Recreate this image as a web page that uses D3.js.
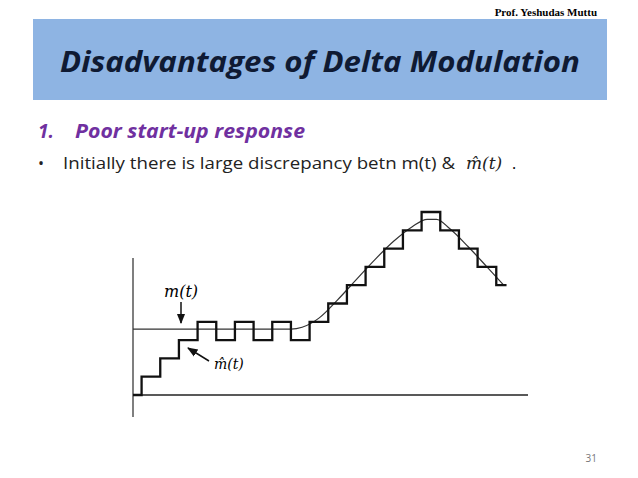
<!DOCTYPE html><html><head><meta charset="utf-8"><script src="https://cdn.jsdelivr.net/npm/d3@7"></script>
<style>body{margin:0;background:#fff}</style></head><body><svg id="c" width="638" height="478"></svg>
<script>
// staircase approximation levels per sampling interval
const stairLevels=[1,2,3,4,3,4,3,4,3,4,5,6,7,8,9,10,9,8,7,6];
// message signal m(t): [time index, level]
const mT=[-0.46,0,2,4,6,8,8.6,9.5,10.5,11.5,12.5,13.5,14.5,15.3,15.8,16.5,17.5,18.5,19.4];
const mV=[3.6,3.6,3.6,3.6,3.6,3.6,3.7,4.2,5.2,6.3,7.4,8.4,9.2,9.6,9.6,9.1,8.1,7.0,6.0];
const title="Disadvantages of Delta Modulation";
const svg=d3.select("#c");
const x=d3.scaleLinear().domain([-0.46,20.7]).range([133,528]);
const y=d3.scaleLinear().domain([0,10]).range([395,212]);
svg.append("text").attr("x",597).attr("y",16).attr("text-anchor","end").attr("font-family","Liberation Serif").attr("font-weight","bold").attr("font-size",11).text("Prof. Yeshudas Muttu");
svg.append("rect").attr("x",33).attr("y",19).attr("width",574).attr("height",81).attr("fill","#8eb4e3");
svg.append("text").attr("x",60).attr("y",72).attr("textLength",520).attr("lengthAdjust","spacingAndGlyphs").attr("font-family","Open Sans").attr("font-style","italic").attr("font-weight","bold").attr("font-size",29).attr("fill","#0f1a33").text(title);
svg.append("text").attr("x",38).attr("y",138).attr("font-family","Open Sans").attr("font-style","italic").attr("font-weight","bold").attr("font-size",19).attr("fill","#7030a0").text("1.");
svg.append("text").attr("x",75).attr("y",138).attr("textLength",230).attr("lengthAdjust","spacingAndGlyphs").attr("font-family","Open Sans").attr("font-style","italic").attr("font-weight","bold").attr("font-size",19).attr("fill","#7030a0").text("Poor start-up response");
svg.append("text").attr("x",38).attr("y",169).attr("font-family","Open Sans").attr("font-size",16).attr("fill","#222").text("•");
svg.append("text").attr("x",63).attr("y",169).attr("textLength",392).attr("lengthAdjust","spacingAndGlyphs").attr("font-family","Open Sans").attr("font-size",17).attr("fill","#222").text("Initially there is large discrepancy betn m(t) &");
svg.append("text").attr("x",466).attr("y",169).attr("font-family","DejaVu Serif").attr("font-style","italic").attr("font-size",17).attr("fill","#222").text("m̂(t)");
svg.append("text").attr("x",512).attr("y",169).attr("font-family","Open Sans").attr("font-size",16).text(".");
svg.append("text").attr("x",597).attr("y",462).attr("text-anchor","end").attr("font-family","Open Sans").attr("font-size",10).attr("fill","#777").text("31");
// axes
svg.append("line").attr("x1",x(-0.46)).attr("x2",x(-0.46)).attr("y1",258).attr("y2",417).attr("stroke","#555").attr("stroke-width",1.5);
svg.append("line").attr("x1",x(-0.46)).attr("x2",x(20.7)).attr("y1",y(0)).attr("y2",y(0)).attr("stroke","#222").attr("stroke-width",1.5);
// m(t)
svg.append("path").datum(mT.map((t,i)=>[t,mV[i]])).attr("fill","none").attr("stroke","#333").attr("stroke-width",1.2)
 .attr("d",d3.line().x(d=>x(d[0])).y(d=>y(d[1])).curve(d3.curveMonotoneX));
// staircase
const pts=[[-0.46,0],[0,0]];
stairLevels.forEach((v,k)=>{pts.push([k,v]);pts.push([k+1,v]);});
pts[pts.length-1][0]=19.55;
svg.append("path").datum(pts).attr("fill","none").attr("stroke","#111").attr("stroke-width",2.3)
 .attr("d",d3.line().x(d=>x(d[0])).y(d=>y(d[1])).curve(d3.curveStepBefore));
// labels
svg.append("text").attr("x",164).attr("y",297).attr("font-family","DejaVu Serif").attr("font-style","italic").attr("font-size",16).text("m(t)");
svg.append("text").attr("x",214).attr("y",369).attr("font-family","DejaVu Serif").attr("font-style","italic").attr("font-size",14).text("m̂(t)");
const defs=svg.append("defs");
defs.append("marker").attr("id","ah").attr("viewBox","0 0 10 10").attr("refX",9).attr("refY",5).attr("markerWidth",7).attr("markerHeight",7).attr("orient","auto")
 .append("path").attr("d","M0,1L10,5L0,9Z").attr("fill","#111");
svg.append("line").attr("x1",181).attr("y1",302).attr("x2",181).attr("y2",323).attr("stroke","#111").attr("stroke-width",1.5).attr("marker-end","url(#ah)");
svg.append("line").attr("x1",209).attr("y1",361).attr("x2",188).attr("y2",348).attr("stroke","#111").attr("stroke-width",1.5).attr("marker-end","url(#ah)");
</script></body></html>
